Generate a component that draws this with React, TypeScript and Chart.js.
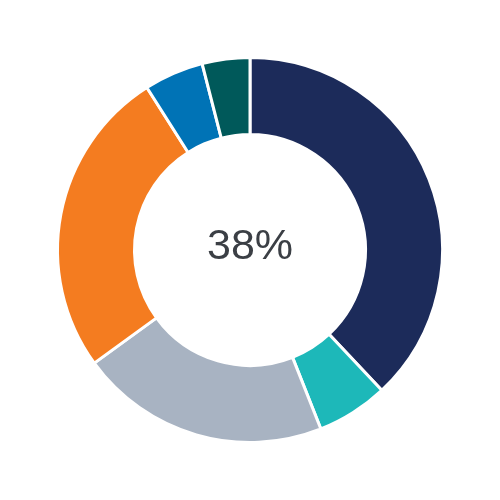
import React, { useEffect, useRef } from "react";
import { Chart, registerables, Plugin } from "chart.js";

Chart.register(...registerables);

const labels = ["Navy", "Teal", "Grey", "Orange", "Blue", "Dark teal"];
const values = [38, 6, 21, 26, 5, 4];
const colors = ["#1c2b5a", "#1db8b9", "#a8b3c2", "#f47c20", "#0073b6", "#00595a"];
const centerLabel = "38%";

const centerText: Plugin<"doughnut"> = {
  id: "centerText",
  afterDraw(chart) {
    const { ctx, chartArea } = chart;
    const x = (chartArea.left + chartArea.right) / 2;
    const y = (chartArea.top + chartArea.bottom) / 2;
    ctx.save();
    ctx.font = "43px 'Liberation Sans', Arial, sans-serif";
    ctx.fillStyle = "#3b3f45";
    ctx.textAlign = "center";
    ctx.textBaseline = "middle";
    ctx.fillText(centerLabel, x, y - 3);
    ctx.restore();
  },
};

const App: React.FC = () => {
  const canvasRef = useRef<HTMLCanvasElement>(null);
  const chartRef = useRef<Chart<"doughnut">>();

  useEffect(() => {
    if (!canvasRef.current) return;
    const ctx = canvasRef.current.getContext("2d");
    if (!ctx) return;
    chartRef.current = new Chart(ctx, {
      type: "doughnut",
      data: {
        labels,
        datasets: [
          {
            data: values,
            backgroundColor: colors,
            borderColor: "#ffffff",
            borderWidth: 3,
          },
        ],
      },
      options: {
        animation: false,
        responsive: true,
        maintainAspectRatio: false,
        cutout: "60%",
        layout: { padding: 56 },
        plugins: {
          legend: { display: false },
          tooltip: { enabled: false },
        },
      },
      plugins: [centerText],
    });
    return () => {
      chartRef.current?.destroy();
    };
  }, []);

  return (
    <div style={{ position: "fixed", left: 0, top: 0, width: 500, height: 500, background: "#fff" }}>
      <canvas ref={canvasRef} />
    </div>
  );
};

export default App;
